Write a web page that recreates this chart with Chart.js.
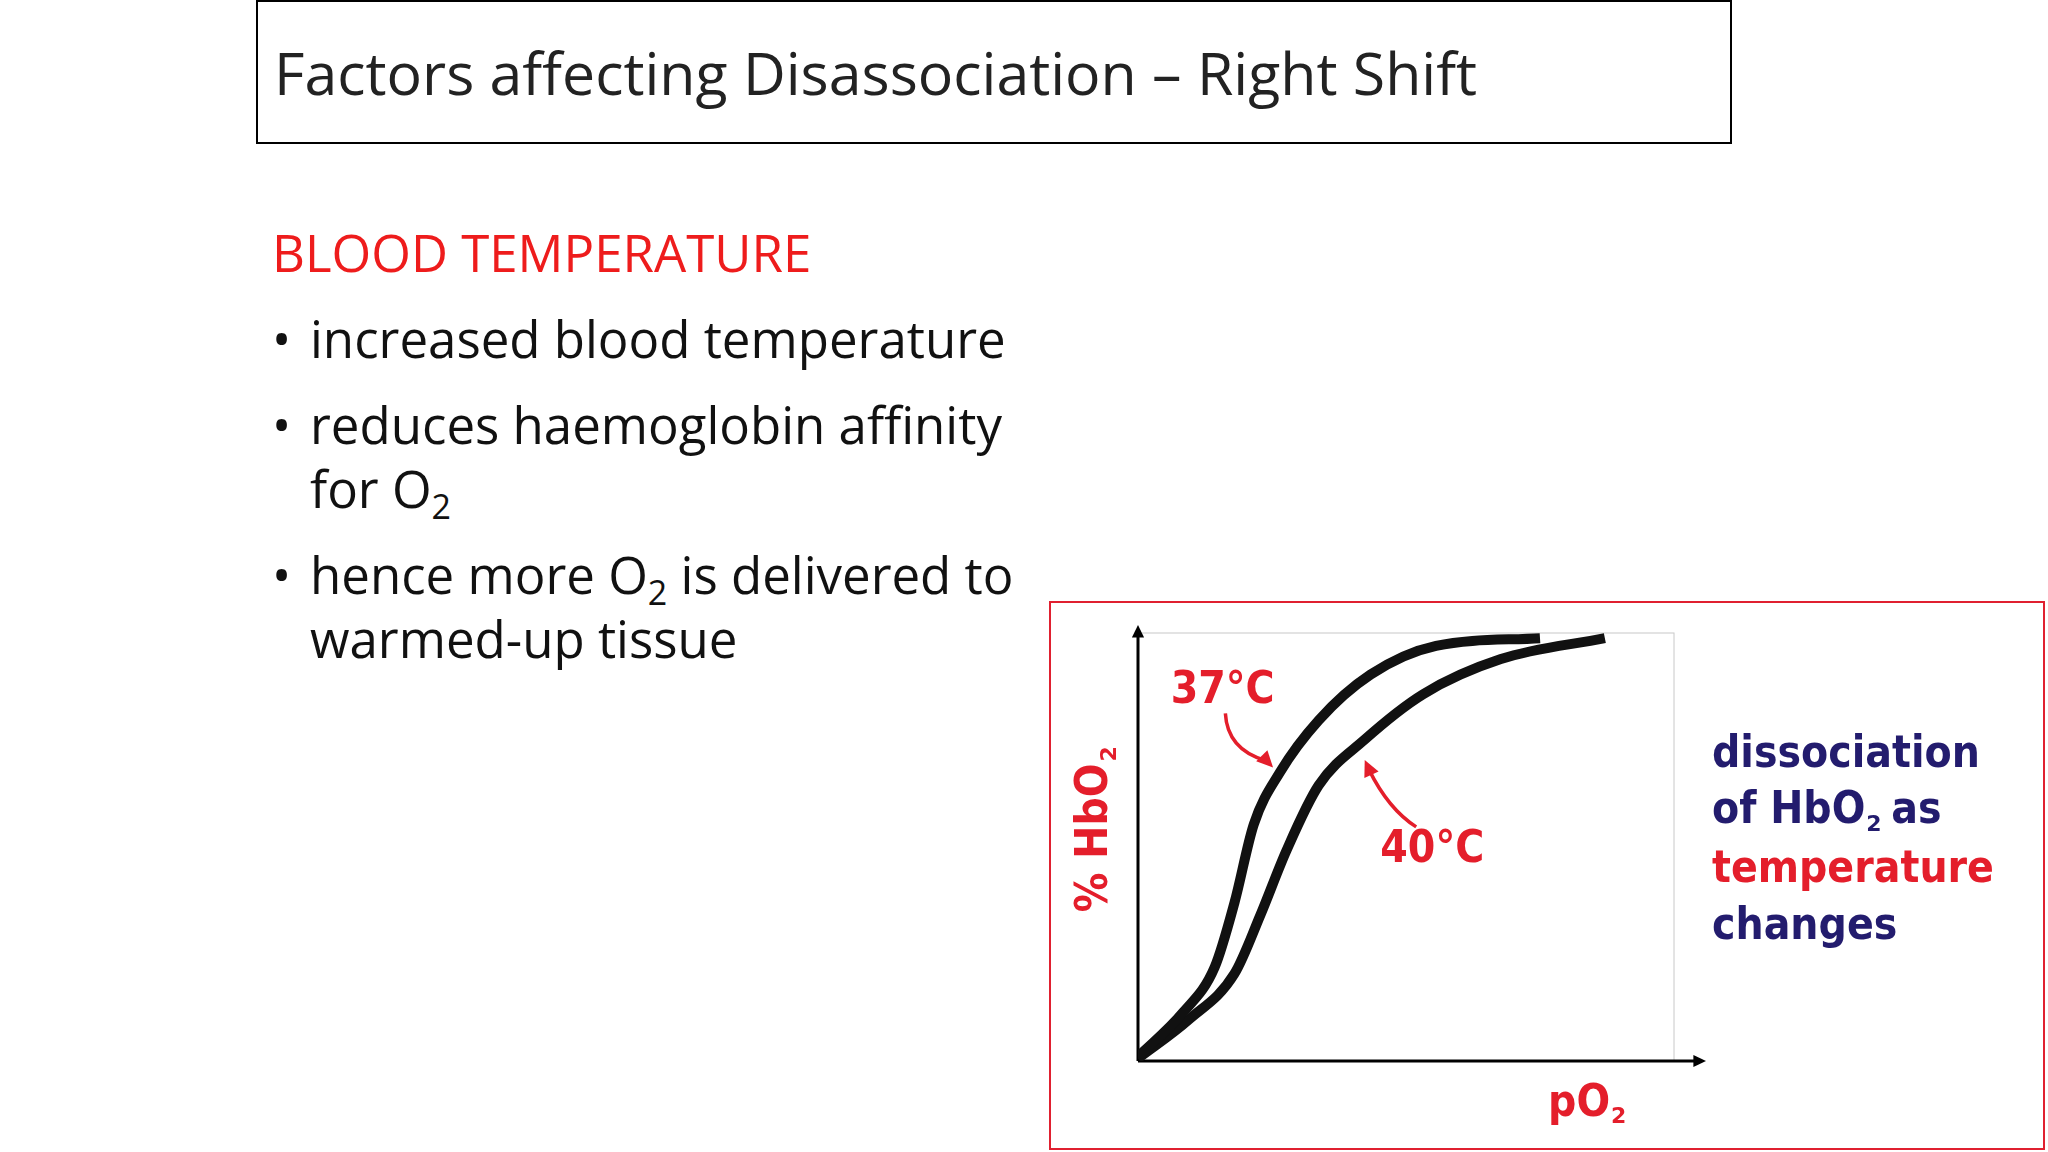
<!DOCTYPE html>
<html><head><meta charset="utf-8">
<script src="https://cdn.jsdelivr.net/npm/chart.js@4/dist/chart.umd.min.js"></script>
<style>
body{margin:0;width:2048px;height:1152px;background:#fff;position:relative;overflow:hidden;font-family:"Open Sans",sans-serif}
#title{position:absolute;left:256px;top:0;width:1476px;height:144px;border:2px solid #000;box-sizing:border-box}
#title span{position:absolute;left:16px;top:30px;font-size:59px;color:#222}
.t{position:absolute;font-size:51px;color:#111;line-height:64px}
sub{font-size:34px;line-height:0}
#box{position:absolute;left:1049px;top:601px;width:996px;height:549px;border:2px solid #e02030;box-sizing:border-box}
</style></head><body>
<div id="title"><span>Factors affecting Disassociation – Right Shift</span></div>
<div class="t" style="left:272px;top:220px;color:#ee1c1c">BLOOD TEMPERATURE</div>
<div class="t" style="left:272px;top:306px">•</div><div class="t" style="left:310px;top:306px">increased blood temperature</div>
<div class="t" style="left:272px;top:392px">•</div><div class="t" style="left:310px;top:392px">reduces haemoglobin affinity<br>for O<sub>2</sub></div>
<div class="t" style="left:272px;top:542px">•</div><div class="t" style="left:310px;top:542px;width:760px">hence more O<sub>2</sub> is delivered to warmed-up tissue</div>
<div id="box"><canvas id="myChart" width="992" height="545"></canvas></div>
<script>
var x37 = [0, 8.3, 14.3, 18, 21.6, 26.5, 33.7, 43.4, 55.6, 75];
var y37 = [1, 11.2, 21.9, 37, 55.3, 67.5, 79.6, 90.3, 97, 98.8];
var x40 = [0, 9.5, 18, 22.8, 27.7, 33.7, 42.2, 53.2, 67.7, 87.1];
var y40 = [0.6, 9.7, 20.4, 34, 49.2, 64.4, 75, 85.7, 93.9, 98.8];

function pts(xs, ys){ return xs.map(function(x, i){ return {x: x, y: ys[i]}; }); }

var RED = "#e41e2b", NAVY = "#231c6e";
var BIG = "bold 44px 'DejaVu Sans Condensed', 'DejaVu Sans'", SUB = "bold 22px 'DejaVu Sans'";

function arrowHead(c, x, y, ang, s){
	c.beginPath();
	c.moveTo(x, y);
	c.lineTo(x - s*Math.cos(ang - 0.45), y - s*Math.sin(ang - 0.45));
	c.lineTo(x - s*Math.cos(ang + 0.45), y - s*Math.sin(ang + 0.45));
	c.closePath(); c.fill();
}

var deco = {
	id: 'deco',
	beforeDatasetsDraw: function(chart){
		var c = chart.ctx, a = chart.chartArea;
		c.save();
		c.strokeStyle = "#c8c8c8"; c.lineWidth = 1;
		c.strokeRect(a.left, a.top, a.right - a.left, a.bottom - a.top);
		c.strokeStyle = "#000"; c.fillStyle = "#000"; c.lineWidth = 3;
		c.beginPath(); c.moveTo(a.left, a.bottom); c.lineTo(a.left, a.top - 2); c.stroke();
		arrowHead(c, a.left, a.top - 8, -Math.PI/2, 14);
		c.beginPath(); c.moveTo(a.left, a.bottom); c.lineTo(a.right + 26, a.bottom); c.stroke();
		arrowHead(c, a.right + 32, a.bottom, 0, 14);
		c.restore();
	},
	afterDatasetsDraw: function(chart){
		var c = chart.ctx, a = chart.chartArea;
		var sx = chart.scales.x, sy = chart.scales.y;
		function P(x, y){ return [sx.getPixelForValue(x), sy.getPixelForValue(y)]; }
		c.save();
		c.font = BIG;
		c.fillStyle = RED; c.textAlign = "center"; c.textBaseline = "middle";
		var p = P(15.8, 86.3); c.fillText("37°C", p[0], p[1]);
		p = P(54.9, 49.2); c.fillText("40°C", p[0], p[1]);
		// arrows
		c.strokeStyle = RED; c.fillStyle = RED; c.lineWidth = 3.5;
		var s = P(16.3, 81.2), e = P(25.2, 68.6);
		c.beginPath(); c.moveTo(s[0], s[1]); c.quadraticCurveTo(s[0] + 2, e[1] - 18, e[0] - 8, e[1] - 7); c.stroke();
		arrowHead(c, e[0], e[1], 0.8, 18);
		s = P(51.9, 54.7); e = P(42.3, 70.3);
		c.beginPath(); c.moveTo(s[0], s[1]); c.quadraticCurveTo(s[0] - 28, s[1] - 18, e[0] + 4, e[1] + 9); c.stroke();
		arrowHead(c, e[0], e[1], -2.0, 18);
		// axis titles
		c.font = BIG;
		c.save(); c.translate(45, sy.getPixelForValue(54)); c.rotate(-Math.PI/2);
		var hw = c.measureText("% HbO").width;
		c.textAlign = "left";
		c.fillText("% HbO", -hw/2 - 8, 0);
		c.font = SUB; c.fillText("2", hw/2 - 6, 14);
		c.restore();
		c.textAlign = "left";
		c.font = BIG;
		var px = sx.getPixelForValue(76.5);
		c.fillText("pO", px, a.bottom + 44);
		var pw = c.measureText("pO").width;
		c.font = SUB; c.fillText("2", px + pw + 1, a.bottom + 56);
		// side text
		var tx = 661;
		c.font = BIG;
		c.fillStyle = NAVY;
		c.fillText("dissociation", tx, 153);
		c.fillText("of HbO", tx, 209);
		var w = c.measureText("of HbO").width;
		c.font = SUB; c.fillText("2", tx + w + 1, 222);
		c.font = BIG;
		c.fillText("as", tx + w + 26, 209);
		c.fillStyle = RED; c.fillText("temperature", tx, 268);
		c.fillStyle = NAVY; c.fillText("changes", tx, 325);
		c.restore();
	}
};

var ctx = document.getElementById("myChart").getContext('2d');
var myChart = new Chart(ctx, {
	type: 'line',
	data: {
		datasets: [
			{label: "37°C", data: pts(x37, y37), borderColor: "#111", borderWidth: 10, pointRadius: 0, cubicInterpolationMode: 'monotone'},
			{label: "40°C", data: pts(x40, y40), borderColor: "#111", borderWidth: 10, pointRadius: 0, cubicInterpolationMode: 'monotone'}
		]
	},
	options: {
		responsive: false, animation: false,
		layout: {padding: {left: 87, top: 30, right: 369, bottom: 87}},
		plugins: {legend: {display: false}, tooltip: {enabled: false}},
		scales: {
			x: {type: 'linear', min: 0, max: 100, display: false},
			y: {min: 0, max: 100, display: false}
		}
	},
	plugins: [deco]
});
</script>
</body></html>
